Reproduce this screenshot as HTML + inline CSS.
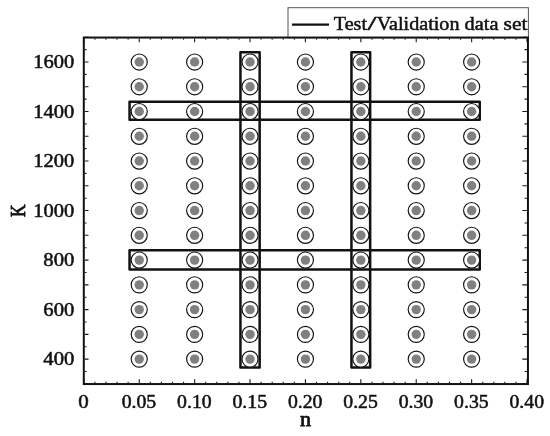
<!DOCTYPE html>
<html><head><meta charset="utf-8"><title>Test/Validation data set</title>
<style>html,body{margin:0;padding:0;background:#fff}svg{display:block}</style></head>
<body>
<svg width="550" height="436" viewBox="0 0 550 436">
<rect x="0" y="0" width="550" height="436" fill="#fff"/>
<rect x="288" y="7.7" width="240.4" height="30" fill="#fff" stroke="#555" stroke-width="1"/>
<line x1="292" y1="24.6" x2="329" y2="24.6" stroke="#111" stroke-width="2.2"/>
<path d="M83.83 383.05v-3.80M83.83 38.45v3.80M94.91 383.05v-1.40M94.91 38.45v1.40M105.99 383.05v-1.40M105.99 38.45v1.40M117.07 383.05v-1.40M117.07 38.45v1.40M128.15 383.05v-1.40M128.15 38.45v1.40M139.23 383.05v-3.80M139.23 38.45v3.80M150.31 383.05v-1.40M150.31 38.45v1.40M161.39 383.05v-1.40M161.39 38.45v1.40M172.47 383.05v-1.40M172.47 38.45v1.40M183.55 383.05v-1.40M183.55 38.45v1.40M194.63 383.05v-3.80M194.63 38.45v3.80M205.71 383.05v-1.40M205.71 38.45v1.40M216.79 383.05v-1.40M216.79 38.45v1.40M227.87 383.05v-1.40M227.87 38.45v1.40M238.95 383.05v-1.40M238.95 38.45v1.40M250.03 383.05v-3.80M250.03 38.45v3.80M261.11 383.05v-1.40M261.11 38.45v1.40M272.19 383.05v-1.40M272.19 38.45v1.40M283.27 383.05v-1.40M283.27 38.45v1.40M294.35 383.05v-1.40M294.35 38.45v1.40M305.43 383.05v-3.80M305.43 38.45v3.80M316.51 383.05v-1.40M316.51 38.45v1.40M327.59 383.05v-1.40M327.59 38.45v1.40M338.67 383.05v-1.40M338.67 38.45v1.40M349.75 383.05v-1.40M349.75 38.45v1.40M360.83 383.05v-3.80M360.83 38.45v3.80M371.91 383.05v-1.40M371.91 38.45v1.40M382.99 383.05v-1.40M382.99 38.45v1.40M394.07 383.05v-1.40M394.07 38.45v1.40M405.15 383.05v-1.40M405.15 38.45v1.40M416.23 383.05v-3.80M416.23 38.45v3.80M427.31 383.05v-1.40M427.31 38.45v1.40M438.39 383.05v-1.40M438.39 38.45v1.40M449.47 383.05v-1.40M449.47 38.45v1.40M460.55 383.05v-1.40M460.55 38.45v1.40M471.63 383.05v-3.80M471.63 38.45v3.80M482.71 383.05v-1.40M482.71 38.45v1.40M493.79 383.05v-1.40M493.79 38.45v1.40M504.87 383.05v-1.40M504.87 38.45v1.40M515.95 383.05v-1.40M515.95 38.45v1.40M527.03 383.05v-3.80M527.03 38.45v3.80M84.80 383.88h3.70M526.95 383.88h-4.60M84.80 371.50h1.80M526.95 371.50h-2.40M84.80 359.12h3.70M526.95 359.12h-4.60M84.80 346.74h1.80M526.95 346.74h-2.40M84.80 334.36h3.70M526.95 334.36h-4.60M84.80 321.98h1.80M526.95 321.98h-2.40M84.80 309.60h3.70M526.95 309.60h-4.60M84.80 297.22h1.80M526.95 297.22h-2.40M84.80 284.84h3.70M526.95 284.84h-4.60M84.80 272.46h1.80M526.95 272.46h-2.40M84.80 260.08h3.70M526.95 260.08h-4.60M84.80 247.70h1.80M526.95 247.70h-2.40M84.80 235.32h3.70M526.95 235.32h-4.60M84.80 222.94h1.80M526.95 222.94h-2.40M84.80 210.56h3.70M526.95 210.56h-4.60M84.80 198.18h1.80M526.95 198.18h-2.40M84.80 185.80h3.70M526.95 185.80h-4.60M84.80 173.42h1.80M526.95 173.42h-2.40M84.80 161.04h3.70M526.95 161.04h-4.60M84.80 148.66h1.80M526.95 148.66h-2.40M84.80 136.28h3.70M526.95 136.28h-4.60M84.80 123.90h1.80M526.95 123.90h-2.40M84.80 111.52h3.70M526.95 111.52h-4.60M84.80 99.14h1.80M526.95 99.14h-2.40M84.80 86.76h3.70M526.95 86.76h-4.60M84.80 74.38h1.80M526.95 74.38h-2.40M84.80 62.00h3.70M526.95 62.00h-4.60M84.80 49.62h1.80M526.95 49.62h-2.40M84.80 37.24h3.70M526.95 37.24h-4.60" stroke="#1a1a1a" stroke-width="1.1" fill="none"/>
<rect x="129.55" y="101.85" width="350.20" height="17.90" fill="none" stroke="#111" stroke-width="2.5" stroke-linejoin="round"/>
<rect x="129.55" y="250.35" width="350.20" height="19.10" fill="none" stroke="#111" stroke-width="2.5" stroke-linejoin="round"/>
<rect x="240.45" y="52.15" width="19.20" height="315.40" fill="none" stroke="#111" stroke-width="2.5" stroke-linejoin="round"/>
<rect x="351.45" y="52.15" width="18.70" height="315.40" fill="none" stroke="#111" stroke-width="2.5" stroke-linejoin="round"/>
<circle cx="139.23" cy="359.12" r="8.05" fill="#fff" stroke="#111" stroke-width="1.15"/><circle cx="139.23" cy="359.12" r="4.7" fill="#808080"/>
<circle cx="139.23" cy="334.36" r="8.05" fill="#fff" stroke="#111" stroke-width="1.15"/><circle cx="139.23" cy="334.36" r="4.7" fill="#808080"/>
<circle cx="139.23" cy="309.60" r="8.05" fill="#fff" stroke="#111" stroke-width="1.15"/><circle cx="139.23" cy="309.60" r="4.7" fill="#808080"/>
<circle cx="139.23" cy="284.84" r="8.05" fill="#fff" stroke="#111" stroke-width="1.15"/><circle cx="139.23" cy="284.84" r="4.7" fill="#808080"/>
<circle cx="139.23" cy="260.08" r="8.05" fill="#fff" stroke="#111" stroke-width="1.15"/><circle cx="139.23" cy="260.08" r="4.7" fill="#808080"/>
<circle cx="139.23" cy="235.32" r="8.05" fill="#fff" stroke="#111" stroke-width="1.15"/><circle cx="139.23" cy="235.32" r="4.7" fill="#808080"/>
<circle cx="139.23" cy="210.56" r="8.05" fill="#fff" stroke="#111" stroke-width="1.15"/><circle cx="139.23" cy="210.56" r="4.7" fill="#808080"/>
<circle cx="139.23" cy="185.80" r="8.05" fill="#fff" stroke="#111" stroke-width="1.15"/><circle cx="139.23" cy="185.80" r="4.7" fill="#808080"/>
<circle cx="139.23" cy="161.04" r="8.05" fill="#fff" stroke="#111" stroke-width="1.15"/><circle cx="139.23" cy="161.04" r="4.7" fill="#808080"/>
<circle cx="139.23" cy="136.28" r="8.05" fill="#fff" stroke="#111" stroke-width="1.15"/><circle cx="139.23" cy="136.28" r="4.7" fill="#808080"/>
<circle cx="139.23" cy="111.52" r="8.05" fill="#fff" stroke="#111" stroke-width="1.15"/><circle cx="139.23" cy="111.52" r="4.7" fill="#808080"/>
<circle cx="139.23" cy="86.76" r="8.05" fill="#fff" stroke="#111" stroke-width="1.15"/><circle cx="139.23" cy="86.76" r="4.7" fill="#808080"/>
<circle cx="139.23" cy="62.00" r="8.05" fill="#fff" stroke="#111" stroke-width="1.15"/><circle cx="139.23" cy="62.00" r="4.7" fill="#808080"/>
<circle cx="194.63" cy="359.12" r="8.05" fill="#fff" stroke="#111" stroke-width="1.15"/><circle cx="194.63" cy="359.12" r="4.7" fill="#808080"/>
<circle cx="194.63" cy="334.36" r="8.05" fill="#fff" stroke="#111" stroke-width="1.15"/><circle cx="194.63" cy="334.36" r="4.7" fill="#808080"/>
<circle cx="194.63" cy="309.60" r="8.05" fill="#fff" stroke="#111" stroke-width="1.15"/><circle cx="194.63" cy="309.60" r="4.7" fill="#808080"/>
<circle cx="194.63" cy="284.84" r="8.05" fill="#fff" stroke="#111" stroke-width="1.15"/><circle cx="194.63" cy="284.84" r="4.7" fill="#808080"/>
<circle cx="194.63" cy="260.08" r="8.05" fill="#fff" stroke="#111" stroke-width="1.15"/><circle cx="194.63" cy="260.08" r="4.7" fill="#808080"/>
<circle cx="194.63" cy="235.32" r="8.05" fill="#fff" stroke="#111" stroke-width="1.15"/><circle cx="194.63" cy="235.32" r="4.7" fill="#808080"/>
<circle cx="194.63" cy="210.56" r="8.05" fill="#fff" stroke="#111" stroke-width="1.15"/><circle cx="194.63" cy="210.56" r="4.7" fill="#808080"/>
<circle cx="194.63" cy="185.80" r="8.05" fill="#fff" stroke="#111" stroke-width="1.15"/><circle cx="194.63" cy="185.80" r="4.7" fill="#808080"/>
<circle cx="194.63" cy="161.04" r="8.05" fill="#fff" stroke="#111" stroke-width="1.15"/><circle cx="194.63" cy="161.04" r="4.7" fill="#808080"/>
<circle cx="194.63" cy="136.28" r="8.05" fill="#fff" stroke="#111" stroke-width="1.15"/><circle cx="194.63" cy="136.28" r="4.7" fill="#808080"/>
<circle cx="194.63" cy="111.52" r="8.05" fill="#fff" stroke="#111" stroke-width="1.15"/><circle cx="194.63" cy="111.52" r="4.7" fill="#808080"/>
<circle cx="194.63" cy="86.76" r="8.05" fill="#fff" stroke="#111" stroke-width="1.15"/><circle cx="194.63" cy="86.76" r="4.7" fill="#808080"/>
<circle cx="194.63" cy="62.00" r="8.05" fill="#fff" stroke="#111" stroke-width="1.15"/><circle cx="194.63" cy="62.00" r="4.7" fill="#808080"/>
<circle cx="250.03" cy="359.12" r="8.05" fill="#fff" stroke="#111" stroke-width="1.15"/><circle cx="250.03" cy="359.12" r="4.7" fill="#808080"/>
<circle cx="250.03" cy="334.36" r="8.05" fill="#fff" stroke="#111" stroke-width="1.15"/><circle cx="250.03" cy="334.36" r="4.7" fill="#808080"/>
<circle cx="250.03" cy="309.60" r="8.05" fill="#fff" stroke="#111" stroke-width="1.15"/><circle cx="250.03" cy="309.60" r="4.7" fill="#808080"/>
<circle cx="250.03" cy="284.84" r="8.05" fill="#fff" stroke="#111" stroke-width="1.15"/><circle cx="250.03" cy="284.84" r="4.7" fill="#808080"/>
<circle cx="250.03" cy="260.08" r="8.05" fill="#fff" stroke="#111" stroke-width="1.15"/><circle cx="250.03" cy="260.08" r="4.7" fill="#808080"/>
<circle cx="250.03" cy="235.32" r="8.05" fill="#fff" stroke="#111" stroke-width="1.15"/><circle cx="250.03" cy="235.32" r="4.7" fill="#808080"/>
<circle cx="250.03" cy="210.56" r="8.05" fill="#fff" stroke="#111" stroke-width="1.15"/><circle cx="250.03" cy="210.56" r="4.7" fill="#808080"/>
<circle cx="250.03" cy="185.80" r="8.05" fill="#fff" stroke="#111" stroke-width="1.15"/><circle cx="250.03" cy="185.80" r="4.7" fill="#808080"/>
<circle cx="250.03" cy="161.04" r="8.05" fill="#fff" stroke="#111" stroke-width="1.15"/><circle cx="250.03" cy="161.04" r="4.7" fill="#808080"/>
<circle cx="250.03" cy="136.28" r="8.05" fill="#fff" stroke="#111" stroke-width="1.15"/><circle cx="250.03" cy="136.28" r="4.7" fill="#808080"/>
<circle cx="250.03" cy="111.52" r="8.05" fill="#fff" stroke="#111" stroke-width="1.15"/><circle cx="250.03" cy="111.52" r="4.7" fill="#808080"/>
<circle cx="250.03" cy="86.76" r="8.05" fill="#fff" stroke="#111" stroke-width="1.15"/><circle cx="250.03" cy="86.76" r="4.7" fill="#808080"/>
<circle cx="250.03" cy="62.00" r="8.05" fill="#fff" stroke="#111" stroke-width="1.15"/><circle cx="250.03" cy="62.00" r="4.7" fill="#808080"/>
<circle cx="305.43" cy="359.12" r="8.05" fill="#fff" stroke="#111" stroke-width="1.15"/><circle cx="305.43" cy="359.12" r="4.7" fill="#808080"/>
<circle cx="305.43" cy="334.36" r="8.05" fill="#fff" stroke="#111" stroke-width="1.15"/><circle cx="305.43" cy="334.36" r="4.7" fill="#808080"/>
<circle cx="305.43" cy="309.60" r="8.05" fill="#fff" stroke="#111" stroke-width="1.15"/><circle cx="305.43" cy="309.60" r="4.7" fill="#808080"/>
<circle cx="305.43" cy="284.84" r="8.05" fill="#fff" stroke="#111" stroke-width="1.15"/><circle cx="305.43" cy="284.84" r="4.7" fill="#808080"/>
<circle cx="305.43" cy="260.08" r="8.05" fill="#fff" stroke="#111" stroke-width="1.15"/><circle cx="305.43" cy="260.08" r="4.7" fill="#808080"/>
<circle cx="305.43" cy="235.32" r="8.05" fill="#fff" stroke="#111" stroke-width="1.15"/><circle cx="305.43" cy="235.32" r="4.7" fill="#808080"/>
<circle cx="305.43" cy="210.56" r="8.05" fill="#fff" stroke="#111" stroke-width="1.15"/><circle cx="305.43" cy="210.56" r="4.7" fill="#808080"/>
<circle cx="305.43" cy="185.80" r="8.05" fill="#fff" stroke="#111" stroke-width="1.15"/><circle cx="305.43" cy="185.80" r="4.7" fill="#808080"/>
<circle cx="305.43" cy="161.04" r="8.05" fill="#fff" stroke="#111" stroke-width="1.15"/><circle cx="305.43" cy="161.04" r="4.7" fill="#808080"/>
<circle cx="305.43" cy="136.28" r="8.05" fill="#fff" stroke="#111" stroke-width="1.15"/><circle cx="305.43" cy="136.28" r="4.7" fill="#808080"/>
<circle cx="305.43" cy="111.52" r="8.05" fill="#fff" stroke="#111" stroke-width="1.15"/><circle cx="305.43" cy="111.52" r="4.7" fill="#808080"/>
<circle cx="305.43" cy="86.76" r="8.05" fill="#fff" stroke="#111" stroke-width="1.15"/><circle cx="305.43" cy="86.76" r="4.7" fill="#808080"/>
<circle cx="305.43" cy="62.00" r="8.05" fill="#fff" stroke="#111" stroke-width="1.15"/><circle cx="305.43" cy="62.00" r="4.7" fill="#808080"/>
<circle cx="360.83" cy="359.12" r="8.05" fill="#fff" stroke="#111" stroke-width="1.15"/><circle cx="360.83" cy="359.12" r="4.7" fill="#808080"/>
<circle cx="360.83" cy="334.36" r="8.05" fill="#fff" stroke="#111" stroke-width="1.15"/><circle cx="360.83" cy="334.36" r="4.7" fill="#808080"/>
<circle cx="360.83" cy="309.60" r="8.05" fill="#fff" stroke="#111" stroke-width="1.15"/><circle cx="360.83" cy="309.60" r="4.7" fill="#808080"/>
<circle cx="360.83" cy="284.84" r="8.05" fill="#fff" stroke="#111" stroke-width="1.15"/><circle cx="360.83" cy="284.84" r="4.7" fill="#808080"/>
<circle cx="360.83" cy="260.08" r="8.05" fill="#fff" stroke="#111" stroke-width="1.15"/><circle cx="360.83" cy="260.08" r="4.7" fill="#808080"/>
<circle cx="360.83" cy="235.32" r="8.05" fill="#fff" stroke="#111" stroke-width="1.15"/><circle cx="360.83" cy="235.32" r="4.7" fill="#808080"/>
<circle cx="360.83" cy="210.56" r="8.05" fill="#fff" stroke="#111" stroke-width="1.15"/><circle cx="360.83" cy="210.56" r="4.7" fill="#808080"/>
<circle cx="360.83" cy="185.80" r="8.05" fill="#fff" stroke="#111" stroke-width="1.15"/><circle cx="360.83" cy="185.80" r="4.7" fill="#808080"/>
<circle cx="360.83" cy="161.04" r="8.05" fill="#fff" stroke="#111" stroke-width="1.15"/><circle cx="360.83" cy="161.04" r="4.7" fill="#808080"/>
<circle cx="360.83" cy="136.28" r="8.05" fill="#fff" stroke="#111" stroke-width="1.15"/><circle cx="360.83" cy="136.28" r="4.7" fill="#808080"/>
<circle cx="360.83" cy="111.52" r="8.05" fill="#fff" stroke="#111" stroke-width="1.15"/><circle cx="360.83" cy="111.52" r="4.7" fill="#808080"/>
<circle cx="360.83" cy="86.76" r="8.05" fill="#fff" stroke="#111" stroke-width="1.15"/><circle cx="360.83" cy="86.76" r="4.7" fill="#808080"/>
<circle cx="360.83" cy="62.00" r="8.05" fill="#fff" stroke="#111" stroke-width="1.15"/><circle cx="360.83" cy="62.00" r="4.7" fill="#808080"/>
<circle cx="416.23" cy="359.12" r="8.05" fill="#fff" stroke="#111" stroke-width="1.15"/><circle cx="416.23" cy="359.12" r="4.7" fill="#808080"/>
<circle cx="416.23" cy="334.36" r="8.05" fill="#fff" stroke="#111" stroke-width="1.15"/><circle cx="416.23" cy="334.36" r="4.7" fill="#808080"/>
<circle cx="416.23" cy="309.60" r="8.05" fill="#fff" stroke="#111" stroke-width="1.15"/><circle cx="416.23" cy="309.60" r="4.7" fill="#808080"/>
<circle cx="416.23" cy="284.84" r="8.05" fill="#fff" stroke="#111" stroke-width="1.15"/><circle cx="416.23" cy="284.84" r="4.7" fill="#808080"/>
<circle cx="416.23" cy="260.08" r="8.05" fill="#fff" stroke="#111" stroke-width="1.15"/><circle cx="416.23" cy="260.08" r="4.7" fill="#808080"/>
<circle cx="416.23" cy="235.32" r="8.05" fill="#fff" stroke="#111" stroke-width="1.15"/><circle cx="416.23" cy="235.32" r="4.7" fill="#808080"/>
<circle cx="416.23" cy="210.56" r="8.05" fill="#fff" stroke="#111" stroke-width="1.15"/><circle cx="416.23" cy="210.56" r="4.7" fill="#808080"/>
<circle cx="416.23" cy="185.80" r="8.05" fill="#fff" stroke="#111" stroke-width="1.15"/><circle cx="416.23" cy="185.80" r="4.7" fill="#808080"/>
<circle cx="416.23" cy="161.04" r="8.05" fill="#fff" stroke="#111" stroke-width="1.15"/><circle cx="416.23" cy="161.04" r="4.7" fill="#808080"/>
<circle cx="416.23" cy="136.28" r="8.05" fill="#fff" stroke="#111" stroke-width="1.15"/><circle cx="416.23" cy="136.28" r="4.7" fill="#808080"/>
<circle cx="416.23" cy="111.52" r="8.05" fill="#fff" stroke="#111" stroke-width="1.15"/><circle cx="416.23" cy="111.52" r="4.7" fill="#808080"/>
<circle cx="416.23" cy="86.76" r="8.05" fill="#fff" stroke="#111" stroke-width="1.15"/><circle cx="416.23" cy="86.76" r="4.7" fill="#808080"/>
<circle cx="416.23" cy="62.00" r="8.05" fill="#fff" stroke="#111" stroke-width="1.15"/><circle cx="416.23" cy="62.00" r="4.7" fill="#808080"/>
<circle cx="471.63" cy="359.12" r="8.05" fill="#fff" stroke="#111" stroke-width="1.15"/><circle cx="471.63" cy="359.12" r="4.7" fill="#808080"/>
<circle cx="471.63" cy="334.36" r="8.05" fill="#fff" stroke="#111" stroke-width="1.15"/><circle cx="471.63" cy="334.36" r="4.7" fill="#808080"/>
<circle cx="471.63" cy="309.60" r="8.05" fill="#fff" stroke="#111" stroke-width="1.15"/><circle cx="471.63" cy="309.60" r="4.7" fill="#808080"/>
<circle cx="471.63" cy="284.84" r="8.05" fill="#fff" stroke="#111" stroke-width="1.15"/><circle cx="471.63" cy="284.84" r="4.7" fill="#808080"/>
<circle cx="471.63" cy="260.08" r="8.05" fill="#fff" stroke="#111" stroke-width="1.15"/><circle cx="471.63" cy="260.08" r="4.7" fill="#808080"/>
<circle cx="471.63" cy="235.32" r="8.05" fill="#fff" stroke="#111" stroke-width="1.15"/><circle cx="471.63" cy="235.32" r="4.7" fill="#808080"/>
<circle cx="471.63" cy="210.56" r="8.05" fill="#fff" stroke="#111" stroke-width="1.15"/><circle cx="471.63" cy="210.56" r="4.7" fill="#808080"/>
<circle cx="471.63" cy="185.80" r="8.05" fill="#fff" stroke="#111" stroke-width="1.15"/><circle cx="471.63" cy="185.80" r="4.7" fill="#808080"/>
<circle cx="471.63" cy="161.04" r="8.05" fill="#fff" stroke="#111" stroke-width="1.15"/><circle cx="471.63" cy="161.04" r="4.7" fill="#808080"/>
<circle cx="471.63" cy="136.28" r="8.05" fill="#fff" stroke="#111" stroke-width="1.15"/><circle cx="471.63" cy="136.28" r="4.7" fill="#808080"/>
<circle cx="471.63" cy="111.52" r="8.05" fill="#fff" stroke="#111" stroke-width="1.15"/><circle cx="471.63" cy="111.52" r="4.7" fill="#808080"/>
<circle cx="471.63" cy="86.76" r="8.05" fill="#fff" stroke="#111" stroke-width="1.15"/><circle cx="471.63" cy="86.76" r="4.7" fill="#808080"/>
<circle cx="471.63" cy="62.00" r="8.05" fill="#fff" stroke="#111" stroke-width="1.15"/><circle cx="471.63" cy="62.00" r="4.7" fill="#808080"/>
<rect x="83.8" y="37.55" width="444.15000000000003" height="346.5" fill="none" stroke="#111" stroke-width="2"/>
<text x="78.33" y="408.45" font-size="18" textLength="10.5" lengthAdjust="spacingAndGlyphs" font-family="'Liberation Serif', serif" fill="#111" stroke="#111" stroke-width="0.5">0</text>
<text x="121.73" y="408.45" font-size="18" textLength="34.5" lengthAdjust="spacingAndGlyphs" font-family="'Liberation Serif', serif" fill="#111" stroke="#111" stroke-width="0.5">0.05</text>
<text x="177.13" y="408.45" font-size="18" textLength="34.5" lengthAdjust="spacingAndGlyphs" font-family="'Liberation Serif', serif" fill="#111" stroke="#111" stroke-width="0.5">0.10</text>
<text x="232.53" y="408.45" font-size="18" textLength="34.5" lengthAdjust="spacingAndGlyphs" font-family="'Liberation Serif', serif" fill="#111" stroke="#111" stroke-width="0.5">0.15</text>
<text x="287.93" y="408.45" font-size="18" textLength="34.5" lengthAdjust="spacingAndGlyphs" font-family="'Liberation Serif', serif" fill="#111" stroke="#111" stroke-width="0.5">0.20</text>
<text x="343.33" y="408.45" font-size="18" textLength="34.5" lengthAdjust="spacingAndGlyphs" font-family="'Liberation Serif', serif" fill="#111" stroke="#111" stroke-width="0.5">0.25</text>
<text x="398.73" y="408.45" font-size="18" textLength="34.5" lengthAdjust="spacingAndGlyphs" font-family="'Liberation Serif', serif" fill="#111" stroke="#111" stroke-width="0.5">0.30</text>
<text x="454.13" y="408.45" font-size="18" textLength="34.5" lengthAdjust="spacingAndGlyphs" font-family="'Liberation Serif', serif" fill="#111" stroke="#111" stroke-width="0.5">0.35</text>
<text x="509.53" y="408.45" font-size="18" textLength="34.5" lengthAdjust="spacingAndGlyphs" font-family="'Liberation Serif', serif" fill="#111" stroke="#111" stroke-width="0.5">0.40</text>
<text x="43.30" y="365.32" font-size="18" textLength="31.0" lengthAdjust="spacingAndGlyphs" font-family="'Liberation Serif', serif" fill="#111" stroke="#111" stroke-width="0.5">400</text>
<text x="43.30" y="315.80" font-size="18" textLength="31.0" lengthAdjust="spacingAndGlyphs" font-family="'Liberation Serif', serif" fill="#111" stroke="#111" stroke-width="0.5">600</text>
<text x="43.30" y="266.28" font-size="18" textLength="31.0" lengthAdjust="spacingAndGlyphs" font-family="'Liberation Serif', serif" fill="#111" stroke="#111" stroke-width="0.5">800</text>
<text x="33.30" y="216.76" font-size="18" textLength="41.0" lengthAdjust="spacingAndGlyphs" font-family="'Liberation Serif', serif" fill="#111" stroke="#111" stroke-width="0.5">1000</text>
<text x="33.30" y="167.24" font-size="18" textLength="41.0" lengthAdjust="spacingAndGlyphs" font-family="'Liberation Serif', serif" fill="#111" stroke="#111" stroke-width="0.5">1200</text>
<text x="33.30" y="117.72" font-size="18" textLength="41.0" lengthAdjust="spacingAndGlyphs" font-family="'Liberation Serif', serif" fill="#111" stroke="#111" stroke-width="0.5">1400</text>
<text x="33.30" y="68.20" font-size="18" textLength="41.0" lengthAdjust="spacingAndGlyphs" font-family="'Liberation Serif', serif" fill="#111" stroke="#111" stroke-width="0.5">1600</text>
<text x="333.8" y="29.55" font-size="19.6" font-family="'Liberation Serif', serif" fill="#111" stroke="#111" stroke-width="0.5"><tspan x="333.8" textLength="33.2" lengthAdjust="spacingAndGlyphs">Test</tspan><tspan x="367.5" textLength="9" lengthAdjust="spacingAndGlyphs">/</tspan><tspan x="376.7" textLength="82.8" lengthAdjust="spacingAndGlyphs">Validation</tspan> <tspan x="464.6" textLength="33.9" lengthAdjust="spacingAndGlyphs">data</tspan> <tspan x="503.6" textLength="23.9" lengthAdjust="spacingAndGlyphs">set</tspan></text>
<text x="300.0" y="425.95" font-size="22" textLength="11.1" lengthAdjust="spacingAndGlyphs" font-family="'Liberation Serif', serif" fill="#111" stroke="#111" stroke-width="0.5" style="stroke-width:0.75">n</text>
<text transform="translate(24.9 217.1) rotate(-90)" x="0" y="0" font-size="21.6" textLength="12.5" lengthAdjust="spacingAndGlyphs" font-family="'Liberation Serif', serif" fill="#111" stroke="#111" stroke-width="0.5" style="stroke-width:0.85">K</text>
</svg>
</body></html>
